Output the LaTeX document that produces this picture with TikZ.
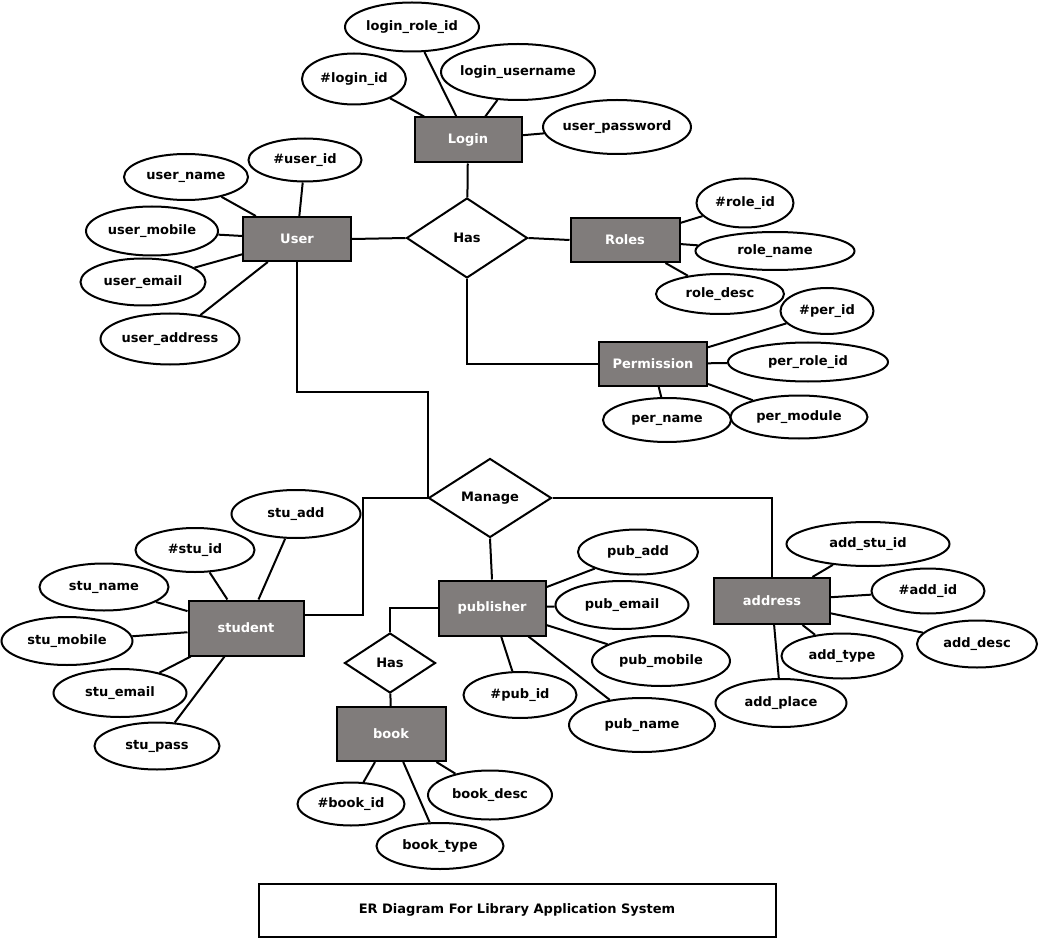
\documentclass[tikz,border=0pt]{standalone}
\usepackage{fontspec}
\setmainfont{DejaVu Sans}
\usetikzlibrary{shapes.geometric}
\definecolor{entgray}{RGB}{128,124,123}

\begin{document}
\begin{tikzpicture}[x=1pt, y=-1pt, line width=2pt,
    font=\fontsize{13}{15}\selectfont\bfseries,
    entity/.style 2 args={draw, fill=entgray, text=white, minimum width=#1, minimum height=#2, inner sep=0pt},
    attr/.style 2 args={draw, ellipse, fill=white, minimum width=#1, minimum height=#2, inner sep=-30pt},
    rel/.style 2 args={draw, diamond, fill=white, minimum width=#1, minimum height=#2, inner sep=0pt}]
    \useasboundingbox (0,0) rectangle (1039,941);

    % entities
    \node[entity={107}{45}] (login) at (468,140) {Login};
    \node[entity={108}{44}] (usr) at (297,239) {User};
    \node[entity={109}{44}] (roles) at (625,240) {Roles};
    \node[entity={108}{44}] (perm) at (653,364) {Permission};
    \node[entity={115}{55}] (stu) at (246,628) {student};
    \node[entity={107}{55}] (pub) at (492,608) {publisher};
    \node[entity={116}{46}] (addr) at (772,601) {address};
    \node[entity={109}{54}] (book) at (391,734) {book};

    % relations
    \node[rel={121}{80}] (has) at (467,238) {Has};
    \node[rel={123}{79}] (manage) at (490,498) {Manage};
    \node[rel={91}{60}] (hasbook) at (390,663) {Has};

    % attributes
    \node[attr={134}{49}] (lrole) at (412,27) {login\_role\_id};
    \node[attr={104}{51}] (lid) at (354,79) {\#login\_id};
    \node[attr={154}{56}] (luser) at (518,72) {login\_username};
    \node[attr={148}{54}] (lpass) at (617,127) {user\_password};
    \node[attr={113}{43}] (uid) at (305,160) {\#user\_id};
    \node[attr={124}{46}] (uname) at (186,177) {user\_name};
    \node[attr={132}{49}] (umobile) at (152,231) {user\_mobile};
    \node[attr={125}{47}] (uemail) at (143,282) {user\_email};
    \node[attr={139}{51}] (uaddr) at (170,339) {user\_address};
    \node[attr={97}{49}] (rid) at (745,203) {\#role\_id};
    \node[attr={159}{38}] (rname) at (775,251) {role\_name};
    \node[attr={128}{40}] (rdesc) at (720,294) {role\_desc};
    \node[attr={93}{46}] (pid) at (827,311) {\#per\_id};
    \node[attr={160}{39}] (prole) at (808,362) {per\_role\_id};
    \node[attr={128}{44}] (pname) at (667,420) {per\_name};
    \node[attr={137}{43}] (pmodule) at (799,417) {per\_module};
    \node[attr={129}{48}] (sadd) at (296,514) {stu\_add};
    \node[attr={119}{44}] (sid) at (195,550) {\#stu\_id};
    \node[attr={129}{47}] (sname) at (104,587) {stu\_name};
    \node[attr={131}{48}] (smobile) at (67,641) {stu\_mobile};
    \node[attr={133}{48}] (semail) at (120,693) {stu\_email};
    \node[attr={125}{47}] (spass) at (157,746) {stu\_pass};
    \node[attr={120}{45}] (padd) at (638,552) {pub\_add};
    \node[attr={133}{48}] (pemail) at (622,605) {pub\_email};
    \node[attr={138}{50}] (pmobile) at (661,661) {pub\_mobile};
    \node[attr={113}{46}] (pubid) at (520,695) {\#pub\_id};
    \node[attr={146}{54}] (pubname) at (642,725) {pub\_name};
    \node[attr={163}{44}] (astu) at (868,544) {add\_stu\_id};
    \node[attr={113}{45}] (aid) at (928,591) {\#add\_id};
    \node[attr={120}{47}] (adesc) at (977,644) {add\_desc};
    \node[attr={121}{45}] (atype) at (842,656) {add\_type};
    \node[attr={131}{48}] (aplace) at (781,703) {add\_place};
    \node[attr={107}{43}] (bid) at (351,804) {\#book\_id};
    \node[attr={124}{49}] (bdesc) at (490,795) {book\_desc};
    \node[attr={127}{46}] (btype) at (440,846) {book\_type};

    \node[draw, minimum width=517, minimum height=53, inner sep=0pt] (title) at (517,910) {ER Diagram For Library Application System};

    % relation lines
    \draw (login) -- (has);
    \draw (usr.east) -- (has.west);
    \draw (has.east) -- (roles.west);
    \draw (has.south) |- (perm.west);
    \draw (usr.south) -- ++(0,130) -| (manage.west);
    \draw (manage.west) -- ++(-65,0) |- ([yshift=13pt]stu.east);
    \draw (manage.south) -- (pub.north);
    \draw (manage.east) -| (addr.north);
    \draw (pub.west) -| (hasbook.north);
    \draw (hasbook) -- (book);

    % attribute lines
    \draw (login) edge (lrole) edge (lid) edge (luser) edge (lpass);
    \draw (usr) edge (uid) edge (uname) edge (umobile) edge (uemail) edge (uaddr);
    \draw (roles) edge (rid) edge (rname) edge (rdesc);
    \draw (perm) edge (pid) edge (prole) edge (pname) edge (pmodule);
    \draw (stu) edge (sadd) edge (sid) edge (sname) edge (smobile) edge (semail) edge (spass);
    \draw (pub) edge (padd) edge (pemail) edge (pmobile) edge (pubid) edge (pubname);
    \draw (addr) edge (astu) edge (aid) edge (adesc) edge (atype) edge (aplace);
    \draw (book) edge (bid) edge (bdesc) edge (btype);
\end{tikzpicture}
\end{document}
